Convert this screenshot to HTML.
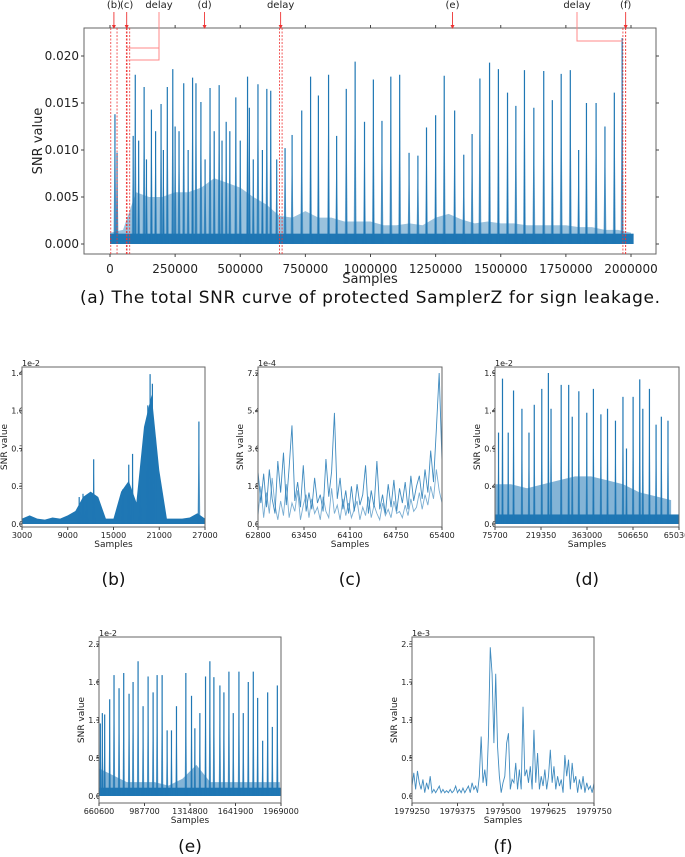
<!DOCTYPE html>
<html><head><meta charset="utf-8"><style>
body{margin:0;background:#fff;width:685px;height:857px;overflow:hidden}
svg{display:block}
text{font-family:"DejaVu Sans","Liberation Sans",sans-serif;fill:#222}
.cap{font-family:"DejaVu Sans","Liberation Sans",sans-serif;font-size:17px;fill:#111}
</style></head><body>
<svg id="fig" width="685" height="857" viewBox="0 0 685 857" xmlns="http://www.w3.org/2000/svg"></svg>
<script>
// ---- (a) total SNR: spikes (sample in thousands, value) ----
const aPeakX=[19,27,89,97,110,131,140,159,175,196,205,220,241,250,265,283,300,317,330,349,365,384,400,419,430,446,460,483,500,528,535,550,568,585,602,617,640,672,699,736,770,800,839,870,907,941,977,1011,1044,1078,1112,1148,1182,1215,1250,1283,1323,1358,1390,1420,1457,1491,1526,1558,1591,1627,1665,1698,1732,1767,1799,1829,1866,1900,1936,1966];
const aPeakV=[0.0138,0.0097,0.0115,0.0180,0.011,0.0167,0.009,0.0143,0.012,0.0149,0.010,0.0167,0.0186,0.0125,0.012,0.0171,0.010,0.0177,0.0171,0.0151,0.009,0.0166,0.012,0.0169,0.011,0.0130,0.012,0.0156,0.011,0.0178,0.0145,0.009,0.0170,0.010,0.0165,0.0163,0.009,0.0102,0.0116,0.0142,0.0178,0.0158,0.0180,0.0115,0.0165,0.0194,0.0130,0.0175,0.0131,0.0178,0.0180,0.0097,0.0094,0.0124,0.0137,0.0179,0.0142,0.0095,0.0117,0.0176,0.0193,0.0186,0.0161,0.0147,0.0185,0.0145,0.0184,0.0153,0.0181,0.0185,0.0100,0.0150,0.0150,0.0125,0.0161,0.0219];
const aEnv=[0.0012,0.0015,0.0055,0.005,0.005,0.0055,0.0055,0.006,0.007,0.0065,0.006,0.005,0.0042,0.003,0.0028,0.0035,0.0028,0.0028,0.0024,0.0024,0.0024,0.002,0.002,0.0022,0.002,0.0028,0.0032,0.0026,0.0022,0.0024,0.0022,0.0022,0.002,0.002,0.002,0.002,0.0018,0.0018,0.0015,0.0015,0.0012];
const aXTicks=[0,250000,500000,750000,1000000,1250000,1500000,1750000,2000000];
const aYTicks=[0,0.005,0.010,0.015,0.020];
const aYLabels=["0.000","0.005","0.010","0.015","0.020"];
const aMarkers=[3000,27000,62800,65400,75700,650300,660600,1969000,1979250,1979750];
// ---- (b) ----
const bPeakX=[10500,11000,11500,12400,16200,17000,17500,18500,19500,19800,20100,20500,26200];
const bPeakV=[0.25,0.28,0.27,0.6,0.32,0.55,0.65,0.35,1.1,1.39,1.3,0.8,0.95];
const bEnv=[0.05,0.08,0.05,0.04,0.06,0.05,0.08,0.12,0.25,0.3,0.25,0.05,0.05,0.3,0.4,0.2,0.9,1.2,0.5,0.05,0.05,0.05,0.06,0.1,0.05];
const bXTicks=[3000,9000,15000,21000,27000];
const bYTicks=[0,0.35,0.7,1.05,1.4];
// ---- (c) ----
const cVals=[2.5,1.0,2.4,0.8,2.6,1.2,0.5,3.0,1.5,3.4,0.9,2.7,4.7,1.1,2.0,0.8,2.8,0.6,1.5,0.7,2.2,1.0,1.4,0.6,3.1,1.3,2.5,5.3,1.2,2.2,0.7,1.6,0.5,1.8,0.6,1.9,0.9,1.4,2.8,0.5,1.6,0.8,3.0,0.7,1.4,0.5,1.9,0.8,2.1,0.6,1.7,1.0,2.0,0.7,2.3,1.1,1.8,2.3,1.2,2.6,1.5,3.5,2.0,4.5,7.2,3.0];
const cVals2=[0.4,1.8,0.3,1.5,0.5,2.2,0.9,0.2,1.1,0.4,1.9,0.3,1.0,0.6,1.6,0.2,0.9,1.4,0.3,1.2,0.5,0.8,0.2,1.3,0.6,0.3,1.7,0.5,0.9,0.2,1.2,0.4,1.0,0.3,0.7,1.1,0.2,0.8,0.4,1.3,0.3,0.9,0.5,0.2,1.0,0.4,0.7,0.3,1.1,0.5,0.6,0.3,0.9,0.4,1.2,0.6,0.8,1.5,0.7,1.4,0.9,1.8,1.2,2.6,1.6,1.0];
const cXTicks=[62800,63450,64100,64750,65400];
const cYTicks=[0,1.8,3.6,5.4,7.2];
// ---- (d) ----
const dPeakX=[86700,99100,117000,133600,159800,181800,198300,221800,242400,250700,282400,305800,316900,337500,362300,383000,406400,427100,451900,475300,486300,507000,527700,537300,558000,578700,595200,615900];
const dPeakV=[1.15,1.83,1.15,1.68,1.45,1.15,1.5,1.7,1.9,1.45,1.75,1.75,1.35,1.67,1.4,1.7,1.38,1.45,1.3,1.6,0.95,1.6,1.82,1.45,1.7,1.25,1.35,1.3];
const dEnv=[0.5,0.5,0.45,0.5,0.55,0.6,0.6,0.55,0.5,0.4,0.35,0.3];
const dXTicks=[75700,219350,363000,506650,650300];
const dYTicks=[0,0.475,0.95,1.425,1.9];
// ---- (e) ----
const ePeakX=[670200,684600,701400,737400,768600,804700,838300,876700,905500,941500,977500,1013500,1049600,1078400,1114400,1150400,1181600,1217600,1284900,1325700,1349700,1385700,1426500,1457700,1486500,1529800,1558600,1594600,1625800,1666600,1697800,1733800,1769800,1801100,1837100,1873100,1906700,1942700];
const ePeakV=[1.05,1.2,1.18,1.4,1.75,1.56,1.78,1.48,1.65,1.95,1.3,1.73,1.5,1.75,1.75,0.95,0.95,1.3,1.78,1.45,0.98,1.2,1.73,1.95,1.72,1.6,1.5,1.8,1.2,1.8,1.2,1.65,1.8,1.42,0.8,1.5,1.0,1.6];
const eEnv=[0.4,0.3,0.2,0.2,0.2,0.15,0.25,0.45,0.2,0.2,0.2,0.2,0.2,0.2];
const eXTicks=[660600,987700,1314800,1641900,1969000];
const eYTicks=[0,0.55,1.1,1.65,2.2];
// ---- (f) ----
const fVals=[0.15,0.35,0.1,0.38,0.2,0.1,0.25,0.05,0.2,0.1,0.3,0.05,0.1,0.05,0.1,0.15,0.05,0.1,0.05,0.08,0.05,
0.1,0.05,0.08,0.15,0.05,0.1,0.05,0.12,0.05,0.1,0.15,0.05,0.2,0.1,0.15,0.05,0.3,
0.9,0.2,0.4,0.15,0.9,2.25,1.85,0.8,1.85,0.75,0.3,0.05,0.2,0.3,0.8,0.95,0.1,0.25,0.2,0.5,0.1,0.4,0.1,1.35,0.3,0.4,0.2,0.45,0.1,1.0,0.2,0.65,0.1,0.3,0.15,0.4,0.1,0.3,0.7,0.2,0.45,0.1,0.3,0.15,0.25,0.05,0.62,0.3,0.55,0.1,0.5,0.2,0.3,0.05,0.25,0.1,0.3,0.05,0.2,0.1,0.15,0.05,0.2];
const fXTicks=[1979250,1979375,1979500,1979625,1979750];
const fYTicks=[0,0.575,1.15,1.725,2.3];

const NS="http://www.w3.org/2000/svg";
const svg=document.getElementById('fig');
const BLUE="#1f77b4";
function el(tag,attrs,parent){const e=document.createElementNS(NS,tag);for(const k in attrs)e.setAttribute(k,attrs[k]);(parent||svg).appendChild(e);return e;}
function txt(s,attrs,parent){const t=el('text',attrs,parent);t.textContent=s;return t;}

function panel(p){
  const g=el('g',{});
  
  
  const dL=p.dL!==undefined?p.dL:p.L, dR=p.dR!==undefined?p.dR:p.xr;
  const xs=v=>dL+(v-p.x0)/(p.x1-p.x0)*(dR-dL);
  const ys=v=>p.y0px-(v/p.ymax)*(p.y0px-p.ymaxpx);
  p.yt.forEach((v,i)=>{
    const lab=txt(p.ylab?p.ylab[i]:v.toFixed(2),{x:p.L+p.ylabOff,y:ys(v)+p.fs*0.35,'font-size':p.fs,'text-anchor':'end'},g);
    
    
  });
  el('rect',{x:p.L,y:p.T,width:p.xr-p.L,height:p.B-p.T,fill:'#fff'},g);
  const plot=el('g',{},g);
  
  
  if(p.env){
    let pts=[];
    const n=p.env.length;
    p.env.forEach((v,i)=>{pts.push(xs(p.envX0+i*p.envStep)+','+ys(v));});
    pts.push(xs(p.envX0+(n-1)*p.envStep)+','+ys(0));
    pts.push(xs(p.envX0)+','+ys(0));
    const poly=el('polygon',{points:pts.join(' '),fill:BLUE,'fill-opacity':p.envOp},plot);
    
    
  }
  if(p.band!==undefined){
    const r=el('rect',{x:xs(p.bandX0),y:ys(p.band),width:xs(p.bandX1)-xs(p.bandX0),height:ys(0)-ys(p.band),fill:BLUE},plot);
    
    
  }
  if(p.px){
    p.px.forEach((x,i)=>{
      const v=p.pv[i],cx=xs(x*(p.pxScale||1));
      const tri=el('polygon',{points:(cx-p.tw)+','+ys(0)+' '+cx+','+ys(v)+' '+(cx+p.tw)+','+ys(0),fill:BLUE,'fill-opacity':0.55},plot);
      
      
      const ln=el('line',{x1:cx,y1:ys(0),x2:cx,y2:ys(v),stroke:BLUE,'stroke-width':1.2},plot);
      
      
    });
  }
  [p.vals2,p.vals].forEach((arr,k)=>{
    if(!arr) return;
    const step=(p.x1-p.x0)/(arr.length-1);
    const pts=arr.map((v,i)=>xs(p.x0+i*step)+','+ys(v)).join(' ');
    const pl=el('polyline',{points:pts,fill:'none',stroke:BLUE,'stroke-width':0.9,'stroke-opacity':k?0.85:0.6},plot);
    
    
  });
  const fr=el('rect',{x:p.L,y:p.T,width:p.xr-p.L,height:p.B-p.T,fill:'none',stroke:'#666','stroke-width':1},g);
  
  
  p.xt.forEach(v=>{
    const x=xs(v);
    el('line',{x1:x,y1:p.B,x2:x,y2:p.B+3,stroke:'#444'},g);
    if(p.topTicks) el('line',{x1:x,y1:p.T,x2:x,y2:p.T-3,stroke:'#444'},g);
    const t=txt(String(v),{x:x,y:p.B+p.xlabOff,'font-size':p.fs,'text-anchor':'middle'},g);
    
    
  });
  p.yt.forEach(v=>{
    el('line',{x1:p.L,y1:ys(v),x2:p.L-3,y2:ys(v),stroke:'#444'},g);
    if(p.rightTicks) el('line',{x1:p.xr,y1:ys(v),x2:p.xr+3,y2:ys(v),stroke:'#444'},g);
  });
  const xl=txt('Samples',{x:(p.L+p.xr)/2,y:p.B+p.xtitleOff,'font-size':p.fs+1,'text-anchor':'middle'},g);
  
  
  const cy=(p.T+p.B)/2, cx=p.L+p.ytitleOff;
  const yl=txt('SNR value',{x:cx,y:cy,'font-size':p.fs+1,'text-anchor':'middle',transform:'rotate(-90 '+cx+' '+cy+')'},g);
  
  
  if(p.mult){
    const m=txt(p.mult,{x:p.L,y:p.T-1,'font-size':p.fs},g);
    
    
  }
  if(p.cap){
    const c=txt(p.cap,{x:(p.L+p.xr)/2,y:p.capY,'text-anchor':'middle','class':'cap'},g);
    if(p.capLen){c.setAttribute('textLength',p.capLen);c.setAttribute('lengthAdjust','spacing');}
    
    
  }
  return {xs,ys};
}

// (a)
const A=panel({name:'total-snr-chart',L:84,xr:656,T:28,B:254,dL:110,dR:631,x0:0,x1:2000000,
  y0px:244,ymax:0.020,ymaxpx:56,xt:aXTicks,yt:aYTicks,ylab:aYLabels,fs:12,ylabOff:-5,xlabOff:19,xtitleOff:29,ytitleOff:-42,
  px:aPeakX,pxScale:1000,pv:aPeakV,tw:1.6,band:0.0011,bandX0:0,bandX1:2010000,env:aEnv,envX0:0,envStep:50000,envOp:0.45,
  topTicks:true,rightTicks:true,cap:'(a) The total SNR curve of protected SamplerZ for sign leakage.',capY:303,capLen:580});
const ann=el('g',{});


aMarkers.forEach(s=>{
  const x=A.xs(s);
  const l=el('line',{x1:x,y1:28,x2:x,y2:254,stroke:'#e33','stroke-width':0.8,'stroke-dasharray':'2,1.5'},ann);
  
  
});
const labs=[['(b)',15000],['(c)',64100],['(d)',363000],['(e)',1314800],['(f)',1979500],['delay',655000]];
labs.forEach(([s,v])=>{
  const x=A.xs(v);
  txt(s,{x:x,y:8,'font-size':10,'text-anchor':'middle'},ann);
  el('line',{x1:x,y1:12,x2:x,y2:28,stroke:'#e33','stroke-width':0.9},ann);
  el('polygon',{points:(x-2)+',25 '+(x+2)+',25 '+x+',29',fill:'#e33'},ann);
});
txt('delay',{x:159,y:8,'font-size':10,'text-anchor':'middle'},ann);
txt('delay',{x:577,y:8,'font-size':10,'text-anchor':'middle'},ann);
el('polyline',{points:'159,12 159,48 '+A.xs(64100)+',48',fill:'none',stroke:'#f88','stroke-width':1},ann);
el('polyline',{points:'159,48 159,60 '+A.xs(70000)+',60',fill:'none',stroke:'#f88','stroke-width':1},ann);
el('polyline',{points:'577,12 577,41 '+(A.xs(1975000)-2)+',41',fill:'none',stroke:'#f88','stroke-width':1},ann);

// (b)-(f)
panel({name:'panel-b',L:22,xr:205,T:367,B:527,x0:3000,x1:27000,y0px:524,ymax:1.4,ymaxpx:373,xt:bXTicks,yt:bYTicks,fs:8,ylabOff:7,xlabOff:11,xtitleOff:20,ytitleOff:-15,
  px:bPeakX,pv:bPeakV,tw:1.5,env:bEnv,envX0:3000,envStep:1000,envOp:1,band:0.03,bandX0:3000,bandX1:27000,mult:'1e-2',cap:'(b)',capY:585});
panel({name:'panel-c',L:258,xr:442,T:367,B:527,x0:62800,x1:65400,y0px:524,ymax:7.2,ymaxpx:373,xt:cXTicks,yt:cYTicks,fs:8,ylabOff:7,xlabOff:11,xtitleOff:20,ytitleOff:-15,
  vals:cVals,vals2:cVals2,mult:'1e-4',cap:'(c)',capY:585});
panel({name:'panel-d',L:495,xr:679,T:367,B:527,x0:75700,x1:650300,y0px:524,ymax:1.9,ymaxpx:373,xt:dXTicks,yt:dYTicks,fs:8,ylabOff:7,xlabOff:11,xtitleOff:20,ytitleOff:-15,
  px:dPeakX,pv:dPeakV,tw:1.3,band:0.12,bandX0:75700,bandX1:650300,env:dEnv,envX0:75700,envStep:50000,envOp:0.55,mult:'1e-2',cap:'(d)',capY:585});
panel({name:'panel-e',L:99,xr:281,T:637,B:803,x0:660600,x1:1969000,y0px:796,ymax:2.2,ymaxpx:644,xt:eXTicks,yt:eYTicks,fs:8,ylabOff:7,xlabOff:11,xtitleOff:20,ytitleOff:-15,
  px:ePeakX,pv:ePeakV,tw:1.3,band:0.12,bandX0:660600,bandX1:1969000,env:eEnv,envX0:660600,envStep:100000,envOp:0.55,mult:'1e-2',cap:'(e)',capY:852});
panel({name:'panel-f',L:412,xr:594,T:637,B:803,x0:1979250,x1:1979750,y0px:796,ymax:2.3,ymaxpx:644,xt:fXTicks,yt:fYTicks,fs:8,ylabOff:7,xlabOff:11,xtitleOff:20,ytitleOff:-15,
  vals:fVals,mult:'1e-3',cap:'(f)',capY:852});
</script>
</body></html>
